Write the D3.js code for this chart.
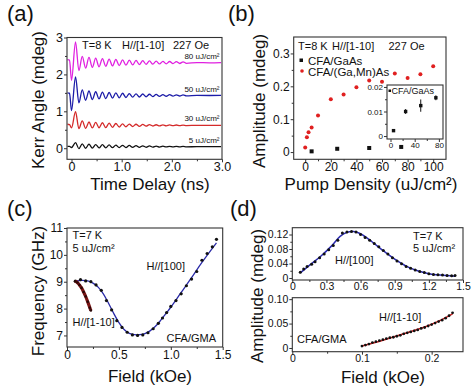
<!DOCTYPE html>
<html><head><meta charset="utf-8">
<script src="https://cdn.jsdelivr.net/npm/d3@7"></script>
<style>body{margin:0;background:#fff}svg{display:block}text{font-family:"Liberation Sans",Arial,sans-serif;fill:#111}</style>
</head><body><svg id="c" width="474" height="392"></svg>
<script>
// ---------- (a) Kerr angle time traces ----------
const aTime=[-0.08,-0.04,0.0,0.08,0.147,0.214,0.281,0.348,0.415,0.482,0.549,0.616,0.683,0.75,0.817,0.884,0.951,1.018,1.085,1.152,1.219,1.286,1.353,1.42,1.487,1.554,1.621,1.688,1.755,1.822,1.889,1.956,2.023,2.09,2.157,2.224,2.291,2.5,2.75,2.98];
const aPink=[2.40,2.39,1.84,2.88,2.10,2.49,2.17,2.46,2.19,2.44,2.205,2.43,2.22,2.415,2.23,2.405,2.24,2.395,2.25,2.386,2.258,2.378,2.265,2.372,2.272,2.365,2.278,2.36,2.283,2.355,2.287,2.35,2.292,2.346,2.296,2.342,2.30,2.32,2.315,2.32];
const aBlue=[1.50,1.49,1.02,1.93,1.23,1.58,1.30,1.55,1.32,1.53,1.335,1.52,1.345,1.51,1.355,1.50,1.365,1.49,1.374,1.482,1.382,1.475,1.388,1.469,1.394,1.463,1.40,1.458,1.404,1.454,1.408,1.45,1.412,1.446,1.415,1.444,1.417,1.43,1.428,1.43];
const aRed=[0.65,0.64,0.55,0.99,0.53,0.74,0.54,0.71,0.55,0.70,0.555,0.69,0.56,0.68,0.565,0.67,0.574,0.662,0.582,0.655,0.588,0.649,0.594,0.644,0.598,0.64,0.602,0.636,0.605,0.634,0.608,0.631,0.61,0.629,0.612,0.627,0.613,0.62,0.618,0.62];
const aBlack=[0.05,0.05,0.02,0.15,-0.01,0.12,0.0,0.11,0.005,0.10,0.01,0.095,0.012,0.09,0.015,0.085,0.018,0.08,0.02,0.075,0.022,0.07,0.025,0.066,0.027,0.062,0.03,0.058,0.032,0.055,0.034,0.052,0.035,0.05,0.036,0.048,0.038,0.043,0.042,0.043];
const aSeriesLabels=["80 uJ/cm²","50 uJ/cm²","30 uJ/cm²","5 uJ/cm²"];
const aXTicks=[0,1,2,3], aYTicks=[0,1,2,3];

// ---------- (b) amplitude vs pump density ----------
const bGaAsX=[5,25,50,75];
const bGaAsY=[0.0022,0.010,0.0124,0.0156];
const bGaAsErr=[0.0005,0.001,0.0025,0.001];
const bGaMnX=[0,1.3,2.6,5,10,20,30,40,50,60,70,80,90,100];
const bGaMnY=[0.014,0.045,0.06,0.075,0.111,0.161,0.175,0.197,0.218,0.214,0.239,0.225,0.237,0.261];
const bXTicks=[0,20,40,60,80,100], bYTicks=[0,0.1,0.2,0.3];
const bInsetXTicks=[0,40,80], bInsetYTicks=[0,0.01,0.02];

// ---------- (c) frequency vs field ----------
const cDotsX=[0.08,0.13,0.18,0.23,0.28,0.33,0.38,0.43,0.48,0.53,0.58,0.63,0.68,0.73,0.78,0.83,0.88,0.92,0.96,1.0,1.05,1.1,1.15,1.2,1.25,1.3,1.35,1.4,1.44];
const cDotsY=[9.02,9.08,9.03,9.0,8.88,8.68,8.3,7.95,7.55,7.3,7.12,7.02,7.0,7.02,7.1,7.25,7.45,7.65,7.85,8.08,8.3,8.55,8.85,9.1,9.38,9.8,10.05,10.3,10.58];
const cFitX=[0.08,0.15,0.2,0.25,0.3,0.35,0.4,0.45,0.5,0.55,0.6,0.65,0.7,0.75,0.8,0.85,0.9,0.95,1.0,1.1,1.2,1.3,1.44];
const cFitY=[9.03,9.05,9.03,8.95,8.8,8.55,8.2,7.82,7.48,7.22,7.08,7.03,7.03,7.07,7.17,7.33,7.55,7.8,8.05,8.6,9.15,9.72,10.45];
const cPerpX=[0.08,0.1,0.12,0.14,0.16,0.18,0.2,0.22,0.23];
const cPerpY=[9.02,8.97,8.88,8.77,8.62,8.45,8.25,8.03,7.93];
const cXTicks=[0,0.5,1.0,1.5], cYTicks=[7,8,9,10,11];

// ---------- (d) amplitude vs field ----------
const dUpX=[0.07,0.1,0.13,0.17,0.2,0.24,0.28,0.32,0.36,0.4,0.44,0.48,0.52,0.56,0.6,0.64,0.68,0.72,0.76,0.8,0.84,0.88,0.92,0.96,1.0,1.04,1.08,1.12,1.16,1.2,1.24,1.28,1.32,1.36,1.4,1.43];
const dUpY=[0.016,0.025,0.032,0.038,0.045,0.056,0.066,0.078,0.09,0.104,0.124,0.127,0.128,0.127,0.12,0.112,0.104,0.095,0.086,0.076,0.066,0.056,0.047,0.039,0.032,0.027,0.022,0.018,0.015,0.012,0.01,0.009,0.008,0.007,0.006,0.007];
const dUpFitX=[0.07,0.15,0.25,0.35,0.42,0.48,0.54,0.6,0.7,0.8,0.9,1.0,1.1,1.2,1.3,1.43];
const dUpFitY=[0.014,0.035,0.06,0.09,0.115,0.126,0.128,0.122,0.1,0.075,0.052,0.033,0.02,0.012,0.008,0.005];
const dLowX=[0.1,0.105,0.11,0.115,0.12,0.125,0.13,0.135,0.14,0.145,0.15,0.155,0.16,0.165,0.17,0.175,0.18,0.185,0.19,0.195,0.2,0.205,0.21,0.215,0.22,0.225,0.23];
const dLowY=[0.004,0.006,0.008,0.011,0.013,0.015,0.017,0.019,0.021,0.022,0.024,0.026,0.029,0.031,0.033,0.035,0.037,0.04,0.042,0.045,0.048,0.051,0.054,0.057,0.061,0.066,0.072];
const dLowFitX=[0.1,0.13,0.16,0.19,0.21,0.23];
const dLowFitY=[0.004,0.016,0.029,0.043,0.055,0.07];
const dUpXTicks=[0,0.3,0.6,0.9,1.2,1.5], dUpYTicks=[0,0.04,0.08,0.12];
const dLowXTicks=[0,0.1,0.2], dLowYTicks=[0,0.05,0.10];

// ================= drawing =================
const svg=d3.select("#c");
const zip=(xs,ys)=>xs.map((x,i)=>[x,ys[i]]);
const TICKFONT='"DejaVu Sans",Verdana,sans-serif';

function panel(b,xd,yd){
  const g=svg.append("g");
  const x=d3.scaleLinear().domain(xd).range([b.l,b.r]);
  const y=d3.scaleLinear().domain(yd).range([b.b,b.t]);
  const clipId="clip"+Math.round(b.l)+"_"+Math.round(b.t);
  svg.append("clipPath").attr("id",clipId).append("rect").attr("x",b.l).attr("y",b.t).attr("width",b.r-b.l).attr("height",b.b-b.t);
  const plot=g.append("g").attr("clip-path","url(#"+clipId+")");
  return {g,plot,x,y,b};
}
function frame(p){
  p.g.append("rect").attr("x",p.b.l).attr("y",p.b.t).attr("width",p.b.r-p.b.l).attr("height",p.b.b-p.b.t)
    .attr("fill","none").attr("stroke","#333").attr("stroke-width",1.1);
}
function axes(p,xt,xm,yt,ym,xf,yf,fs){
  const bx=p.g.append("g").attr("transform","translate(0,"+p.b.b+")")
    .call(d3.axisBottom(p.x).tickValues(xt).tickSize(3).tickPadding(0).tickFormat(xf));
  const bxm=p.g.append("g").attr("transform","translate(0,"+p.b.b+")")
    .call(d3.axisBottom(p.x).tickValues(xm).tickSize(2).tickFormat(""));
  const ly=p.g.append("g").attr("transform","translate("+p.b.l+",0)")
    .call(d3.axisLeft(p.y).tickValues(yt).tickSize(3).tickPadding(1).tickFormat(yf));
  const lym=p.g.append("g").attr("transform","translate("+p.b.l+",0)")
    .call(d3.axisLeft(p.y).tickValues(ym).tickSize(2).tickFormat(""));
  [bx,bxm,ly,lym].forEach(a=>{a.select(".domain").remove();a.selectAll("line").attr("stroke","#333");
    a.selectAll("text").attr("font-size",fs).attr("font-family",TICKFONT).attr("fill","#111");});
}
function txt(x,y,s,fs,anchor,rot){
  const t=svg.append("text").attr("x",x).attr("y",y).attr("font-size",fs).attr("text-anchor",anchor||"start").text(s);
  if(rot) t.attr("transform","rotate(-90,"+x+","+y+")");
  return t;
}
function line(p,xs,ys,color,w,curve){
  p.plot.append("path").datum(zip(xs,ys)).attr("fill","none").attr("stroke",color).attr("stroke-width",w)
    .attr("stroke-linejoin","round").attr("d",d3.line().x(d=>p.x(d[0])).y(d=>p.y(d[1])).curve(curve||d3.curveMonotoneX));
}
function dots(p,xs,ys,color,r){
  p.plot.selectAll(null).data(zip(xs,ys)).enter().append("circle").attr("cx",d=>p.x(d[0])).attr("cy",d=>p.y(d[1])).attr("r",r).attr("fill",color);
}
const fmt1=d=>d===0?"0":d3.format(".1f")(d);
const fmt2=d=>d===0?"0":d3.format(".2f")(d);

// ---- (a)
const pa=panel({l:67,r:222,t:37.5,b:159.3},[-0.09,3.0],[-0.3,3.0]);
line(pa,aTime,aBlack,"#111",1.3);
line(pa,aTime,aRed,"#d42a2a",1.3);
line(pa,aTime,aBlue,"#1c1ca8",1.3);
line(pa,aTime,aPink,"#e020e0",1.3);
frame(pa);
axes(pa,aXTicks,[0.5,1.5,2.5],aYTicks,[0.5,1.5,2.5],fmt1,d3.format("d"),12.5);
txt(82,49,"T=8 K",11);txt(122,49,"H//[1-10]",11);txt(173,49,"227 Oe",11);
[59,91.5,121,143].forEach((yy,i)=>txt(219.5,yy,aSeriesLabels[i],8,"end"));
txt(150,190,"Time Delay (ns)",17,"middle");
txt(44,100,"Kerr Angle (mdeg)",17,"middle",true);
txt(7,21,"(a)",22);

// ---- (b)
const pb=panel({l:293.7,r:446,t:37,b:159.3},[-9,110],[-0.022,0.35]);
pb.plot.selectAll(null).data(zip(bGaMnX,bGaMnY)).enter().append("circle")
  .attr("cx",d=>pb.x(d[0])).attr("cy",d=>pb.y(d[1])).attr("r",2).attr("fill","#e02020");
pb.plot.selectAll(null).data(zip(bGaAsX,bGaAsY)).enter().append("rect")
  .attr("x",d=>pb.x(d[0])-2).attr("y",d=>pb.y(d[1])-2).attr("width",4).attr("height",4).attr("fill","#111");
frame(pb);
axes(pb,bXTicks,[10,30,50,70,90],bYTicks,[0.05,0.15,0.25],d3.format("d"),fmt1,12);
txt(298,50,"T=8 K",11);txt(332,50,"H//[1-10]",11);txt(388.5,50,"227 Oe",11);
svg.append("rect").attr("x",299.5).attr("y",58.5).attr("width",3.5).attr("height",3.5).attr("fill","#111");
txt(308,64.5,"CFA/GaAs",11.5);
svg.append("circle").attr("cx",302).attr("cy",71).attr("r",1.8).attr("fill","#e02020");
txt(308,75.5,"CFA/(Ga,Mn)As",11.5);
txt(371,190,"Pump Density (uJ/cm²)",17,"middle");
txt(265,101,"Amplitude (mdeg)",17,"middle",true);
txt(228,21,"(b)",22);

// inset
const pi=panel({l:387,r:443,t:85,b:139},[-5.8,86.8],[-0.0012,0.0208]);
pi.g.insert("rect",":first-child").attr("x",387).attr("y",85).attr("width",56).attr("height",54).attr("fill","#fff");
pi.plot.selectAll(null).data(bGaAsX.map((x,i)=>[x,bGaAsY[i],bGaAsErr[i]])).enter().append("line")
  .attr("x1",d=>pi.x(d[0])).attr("x2",d=>pi.x(d[0])).attr("y1",d=>pi.y(d[1]-d[2])).attr("y2",d=>pi.y(d[1]+d[2]))
  .attr("stroke","#111").attr("stroke-width",1);
pi.plot.selectAll(null).data(zip(bGaAsX,bGaAsY)).enter().append("rect")
  .attr("x",d=>pi.x(d[0])-1.7).attr("y",d=>pi.y(d[1])-1.7).attr("width",3.4).attr("height",3.4).attr("fill","#111");
frame(pi);
axes(pi,bInsetXTicks,[20,60],bInsetYTicks,[0.005,0.015],d3.format("d"),fmt2,8);
svg.append("rect").attr("x",388.5).attr("y",89.5).attr("width",2.5).attr("height",2.5).attr("fill","#111");
txt(391.5,94,"CFA/GaAs",9);

// ---- (c)
const pc=panel({l:67,r:222.7,t:228,b:347},[0,1.5],[6.57,11.0]);
line(pc,cFitX,cFitY,"#2a2aa8",1.3,d3.curveCatmullRom);
dots(pc,cDotsX,cDotsY,"#111",1.6);
line(pc,cPerpX,cPerpY,"#7a1414",3.2,d3.curveCatmullRom);
dots(pc,cPerpX,cPerpY,"#2a0808",1.3);
frame(pc);
axes(pc,cXTicks,[0.25,0.75,1.25],cYTicks,[7.5,8.5,9.5,10.5],fmt1,d3.format("d"),12);
txt(72.5,239,"T=7 K",11);txt(72.5,252,"5 uJ/cm²",11);
txt(146.5,270,"H//[100]",11);
txt(72.5,326,"H//[1-10]",11);
txt(216,342,"CFA/GMA",11,"end");
txt(150,382,"Field (kOe)",17,"middle");
txt(44,291,"Frequency (GHz)",17,"middle",true);
txt(7,216,"(c)",22);

// ---- (d) upper
const pdu=panel({l:292.3,r:463,t:227.7,b:280},[0,1.5],[-0.0055,0.1388]);
line(pdu,dUpFitX,dUpFitY,"#2b2bb0",1.5,d3.curveCatmullRom);
dots(pdu,dUpX,dUpY,"#111",1.5);
frame(pdu);
axes(pdu,dUpXTicks,[0.15,0.45,0.75,1.05,1.35],dUpYTicks,[0.02,0.06,0.1],fmt1,fmt2,10.5);
txt(413,240,"T=7 K",11);txt(413,252,"5 uJ/cm²",11);
txt(335,264,"H//[100]",11);

// ---- (d) lower
const pdl=panel({l:292.3,r:463,t:297.7,b:351.7},[0,0.245],[-0.0076,0.103]);
line(pdl,dLowFitX,dLowFitY,"#cc2020",1.5,d3.curveCatmullRom);
dots(pdl,dLowX,dLowY,"#111",1.4);
frame(pdl);
axes(pdl,dLowXTicks,[0.05,0.15],dLowYTicks,[0.025,0.075],fmt1,fmt2,10.5);
txt(379,321,"H//[1-10]",11);
txt(297,342.5,"CFA/GMA",11);
txt(383,383,"Field (kOe)",17,"middle");
txt(263,296,"Amplitude (mdeg)",17,"middle",true);
txt(230,216,"(d)",22);
</script></body></html>
